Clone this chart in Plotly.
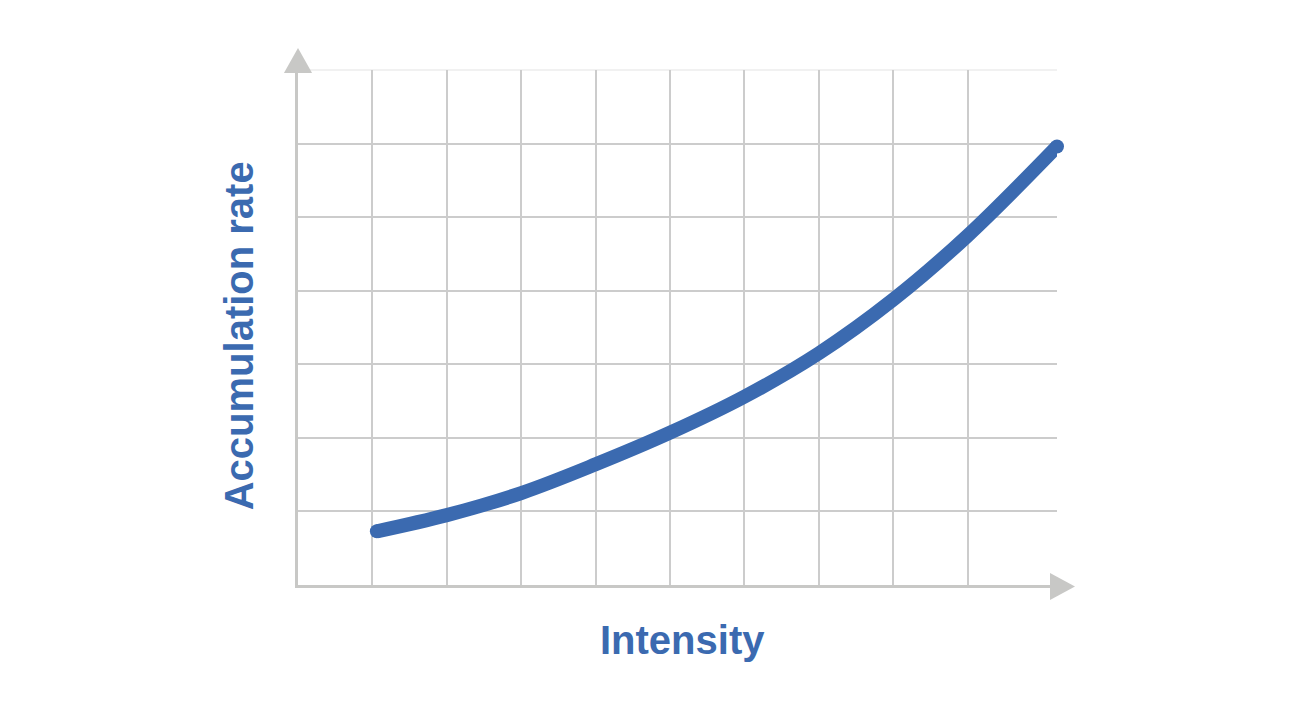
import plotly.graph_objects as go

# values (grid units)
intensity = [1.06, 2, 3, 4, 5, 6, 7, 8, 9, 10.2]
accum_rate = [0.73, 0.95, 1.25, 1.64, 2.07, 2.56, 3.15, 3.88, 4.75, 5.96]

x_grid = [1, 2, 3, 4, 5, 6, 7, 8, 9]
y_grid = [1, 2, 3, 4, 5, 6]

BLUE = "#3b6ab0"
GREY = "#c8c8c6"

fig = go.Figure()

fig.add_trace(go.Scatter(
    x=intensity, y=accum_rate, mode="lines",
    line=dict(color=BLUE, width=14, shape="spline", smoothing=1.0),
    hoverinfo="skip",
))
# round ends of the curve
fig.add_trace(go.Scatter(
    x=[intensity[0], intensity[-1]], y=[accum_rate[0], accum_rate[-1]],
    mode="markers", marker=dict(color=BLUE, size=14),
    hoverinfo="skip", cliponaxis=False,
))

fig.update_xaxes(
    range=[0, 10.2], tickvals=x_grid, showticklabels=False, ticks="",
    showgrid=True, gridcolor="#cccccc", gridwidth=2, zeroline=False,
    showline=True, linecolor=GREY, linewidth=3,
)
fig.update_yaxes(
    range=[0, 7], tickvals=y_grid, showticklabels=False, ticks="",
    showgrid=True, gridcolor="#cccccc", gridwidth=2, zeroline=False,
    showline=True, linecolor=GREY, linewidth=3,
)

# faint top border + arrow heads on the axes
fig.add_shape(type="line", xref="paper", yref="paper", x0=0, x1=1, y0=1, y1=1,
              line=dict(color="#ececec", width=1.5), layer="below")
fig.add_shape(type="path", xref="paper", yref="paper",
              path="M -0.0185 0.9942 L 0.0185 0.9942 L 0 1.0427 Z",
              fillcolor=GREY, line=dict(width=0))
fig.add_shape(type="path", xref="paper", yref="paper",
              path="M 0.9908 0.0233 L 0.9908 -0.0291 L 1.0237 -0.0029 Z",
              fillcolor=GREY, line=dict(width=0))

title_font = dict(family="Liberation Sans, Arial, sans-serif", size=40, color=BLUE)
fig.add_annotation(text="<b>Intensity</b>", xref="paper", yref="paper",
                   x=0.506, y=-0.107, showarrow=False, font=title_font,
                   xanchor="center", yanchor="middle")
fig.add_annotation(text="<b>Accumulation rate</b>", xref="paper", yref="paper",
                   x=-0.0777, y=0.483, showarrow=False, font=title_font,
                   textangle=-90, xanchor="center", yanchor="middle")

# the page body adds an 8px offset, so the figure is sized to compensate
fig.update_layout(
    width=1283, height=693,
    margin=dict(l=290, r=234, t=62, b=116),
    plot_bgcolor="white", paper_bgcolor="white",
    showlegend=False,
)

fig.write_html("out.html")
